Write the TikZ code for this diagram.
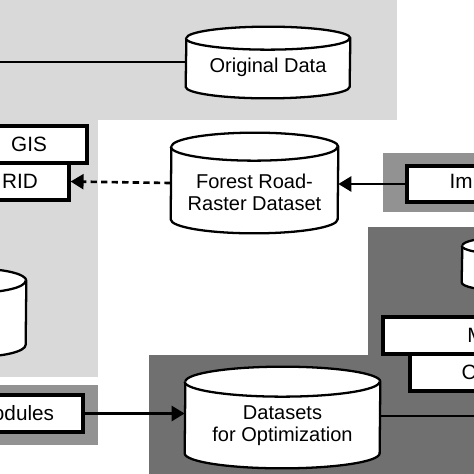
\documentclass[tikz,border=0pt]{standalone}
\usepackage{fontspec}
\setmainfont{Liberation Sans}
\usetikzlibrary{calc,positioning,arrows.meta}

\definecolor{lightbg}{RGB}{217,217,217}
\definecolor{midbg}{RGB}{146,146,146}
\definecolor{darkbg}{RGB}{112,112,112}

% cylinder outline round node #1, ellipse radii #2 and #3
\newcommand{\drawstore}[3]{%
  \filldraw[storeline] ($(#1.south west)+(0cm,#3)$)
      arc[start angle=180, end angle=360, x radius=#2, y radius=#3]
      -- ($(#1.north east)+(0cm,-#3)$)
      arc[start angle=0, end angle=180, x radius=#2, y radius=#3] -- cycle;
  \draw[storeline] ($(#1.north west)+(0cm,-#3)$)
      arc[start angle=180, end angle=360, x radius=#2, y radius=#3];}

\begin{document}
\begin{tikzpicture}[
    x=0.02cm, y=-0.02cm,
    store/.style={rectangle, inner sep=0pt, align=center, font=\fontsize{11.4}{12.5}\selectfont},
    storeline/.style={line width=1.3pt, fill=white},
    module/.style={rectangle, draw, fill=white, line width=1.8pt, inner sep=0pt, minimum height=0.74cm, font=\fontsize{11.8}{13}\selectfont},
    arrow/.style={-{Triangle[length=2.6mm, width=3mm]}, line width=1.5pt},
    link/.style={line width=1.5pt},
]
\useasboundingbox (0,0) rectangle (474,474);
\clip (0,0) rectangle (474,474);

% ================== Background areas ==================
\fill[lightbg] (0,0) rectangle (397,120);
\fill[lightbg] (0,120) rectangle (98,377);
\fill[midbg] (0,385) rectangle (98,445);
\fill[midbg] (383,153) rectangle (474,212);
\fill[darkbg] (368,227) rectangle (474,474);
\fill[darkbg] (149,355) rectangle (474,474);

% ================== Data stores ==================
\node[store, minimum width=3.28cm, minimum height=1.42cm] (orig) at (268,62.5) {};
\node[store, minimum width=3.34cm, minimum height=2cm] (raster) at (254.5,183) {};
\node[store, minimum width=3.9cm, minimum height=2.02cm] (optdata) at (282.5,417.5) {};
\node[store, minimum width=1.6cm, minimum height=1.04cm] (rstore) at (502,264) {};
\node[store, minimum width=2cm, minimum height=1.75cm] (lstore) at (-24,312.75) {};

\drawstore{orig}{1.64cm}{0.23cm}
\drawstore{raster}{1.67cm}{0.28cm}
\drawstore{optdata}{1.95cm}{0.3cm}
\drawstore{rstore}{0.8cm}{0.16cm}
\drawstore{lstore}{1cm}{0.24cm}

\node[store, yshift=-0.1cm] (origtext) at (orig) {Original Data};
\node[store, yshift=-0.18cm] (rastertext) at (raster) {Forest Road-\\Raster Dataset};
\node[store, yshift=-0.16cm] (opttext) at (optdata) {Datasets\\for Optimization};

% ================== Modules ==================
\node[module, minimum width=2.32cm] (gis) at (29,144.5) {GIS};
\node[module, minimum width=1.96cm] (grid) at (20,181.5) {RID};
\node[module, minimum width=2.38cm] (modules) at (23.5,413.5) {odules};
\node[module, minimum width=2.4cm, minimum height=0.72cm] (imp) at (467,184) {Imp};
\node[module, minimum width=3.72cm] (mbox) at (476,335.5) {M};
\node[module, minimum width=2.36cm] (cbox) at (469,372.5) {C};

% ================== Connectors ==================
\coordinate (origin) at (-10,62);
\coordinate (outlet) at (484,416);
\draw[link] (origin) -- (origin -| orig.west);
\draw[arrow, dashed, dash pattern=on 3.6pt off 2.4pt] (raster.west) -- (grid.east);
\draw[arrow] (imp.west) -- (imp.west -| raster.east);
\draw[arrow] (modules.east) -- (modules.east -| optdata.west);
\draw[link] (outlet -| optdata.east) -- (outlet);

\end{tikzpicture}
\end{document}
